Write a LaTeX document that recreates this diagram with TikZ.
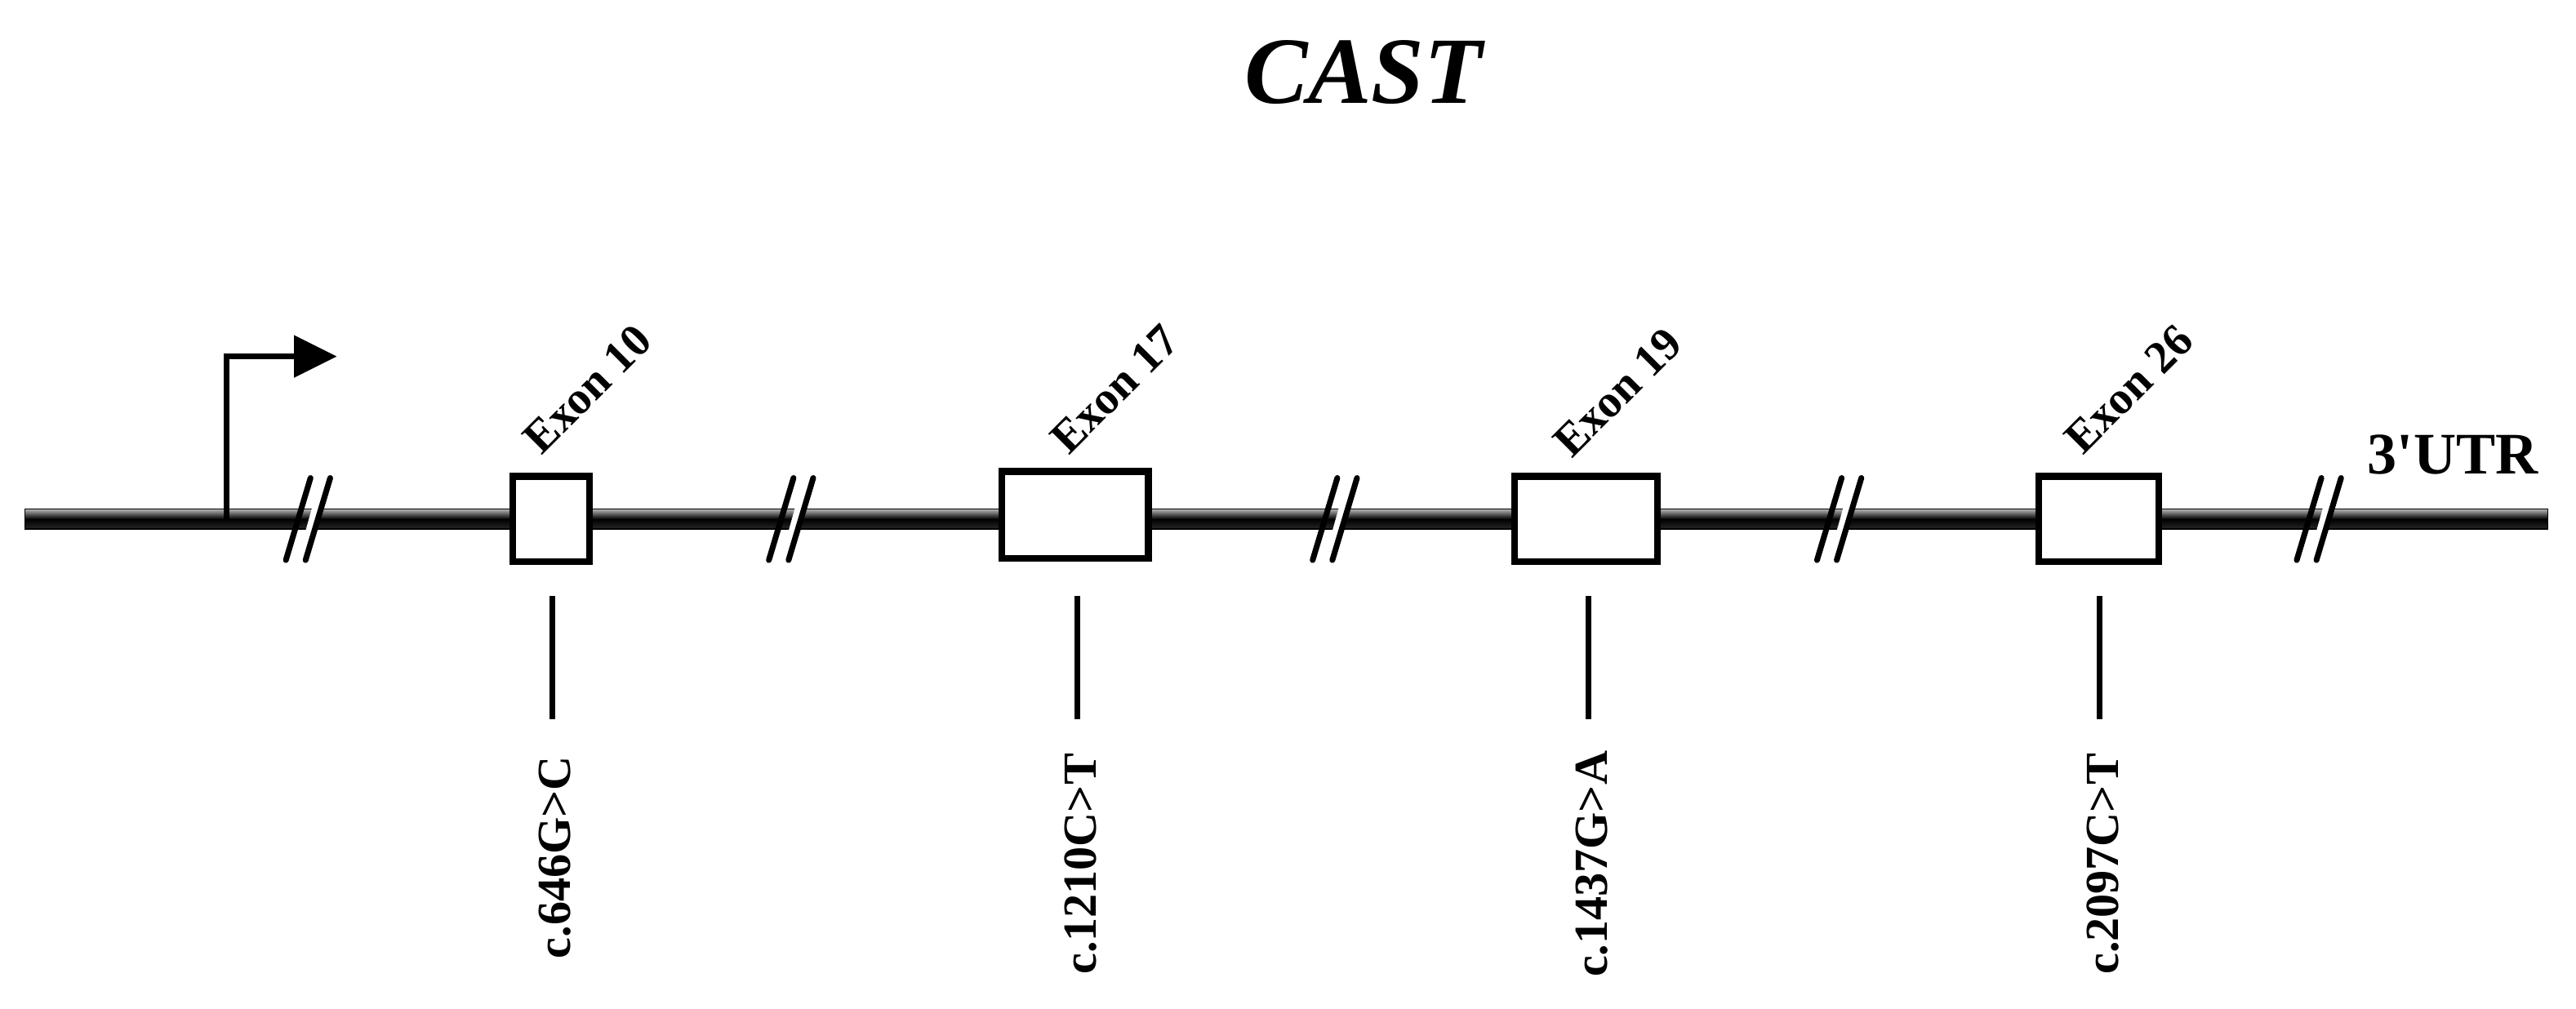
\documentclass[tikz,border=0pt]{standalone}
\usepackage{fontspec}
\setmainfont{Liberation Serif}
\begin{document}
\begin{tikzpicture}[x=1bp,y=-1bp,
  exon/.style={draw=black,fill=white,line width=4bp},
  tick/.style={line width=3.5bp},
  elab/.style={font=\bfseries\fontsize{28}{28}\selectfont,rotate=45,anchor=south west,inner sep=0},
  mlab/.style={font=\bfseries\fontsize{29}{29}\selectfont,rotate=90,anchor=center,inner sep=0},
  brk/.style={line width=3.5bp,line cap=round}]
\useasboundingbox (0,0) rectangle (1568,614);
\node[font=\bfseries\itshape\fontsize{58}{58}\selectfont] (title) at (830,44) {CAST};
% bar
\shade[top color=gray!60, bottom color=black!85, middle color=black] (15,310) rectangle (1551,322);
\draw[line width=0.6bp] (15,310) rectangle (1551,322);
% promoter
\coordinate (p0) at (138,316);
\coordinate (p1) at (138,217);
\coordinate (p2) at (180,217);
\draw[line width=3.5bp] (p0) -- (p1) -- (p2);
\fill (179,204) -- (205,217) -- (179,230) -- cycle;
% breaks
\foreach \x in {190,484,815,1122,1414}{
  \fill[white] (\x-9,341) -- (\x+5,291) -- (\x+12,291) -- (\x-2,341) -- cycle;
  \draw[brk] (\x-16,341) -- (\x-1,291);
  \draw[brk] (\x-4,341) -- (\x+11,291);
}
% exons
\node[exon,minimum width=47bp,minimum height=52bp,inner sep=0] (e10) at (335.5,316) {};
\node[exon,minimum width=89bp,minimum height=53bp,inner sep=0] (e17) at (654.5,313.5) {};
\node[exon,minimum width=87bp,minimum height=52bp,inner sep=0] (e19) at (965.5,316) {};
\node[exon,minimum width=73bp,minimum height=52bp,inner sep=0] (e26) at (1277.5,316) {};
\node[elab] (l10) at (330,278) {Exon 10};
\node[elab] (l17) at (651,278) {Exon 17};
\node[elab] (l19) at (957,280) {Exon 19};
\node[elab] (l26) at (1268,278) {Exon 26};
\node[font=\bfseries\fontsize{36}{36}\selectfont] (utr) at (1493,277) {3\textquotesingle UTR};
% SNP ticks
\foreach \n/\x in {a/336, b/656, c/967, d/1278}{
  \coordinate (\n1) at (\x,363);
  \coordinate (\n2) at (\x,438);
  \draw[tick] (\n1) -- (\n2);
}
\node[mlab] (m1) at (338,522) {c.646G>C};
\node[mlab] (m2) at (658,526) {c.1210C>T};
\node[mlab] (m3) at (969,526) {c.1437G>A};
\node[mlab] (m4) at (1280,526) {c.2097C>T};
\end{tikzpicture}
\end{document}
